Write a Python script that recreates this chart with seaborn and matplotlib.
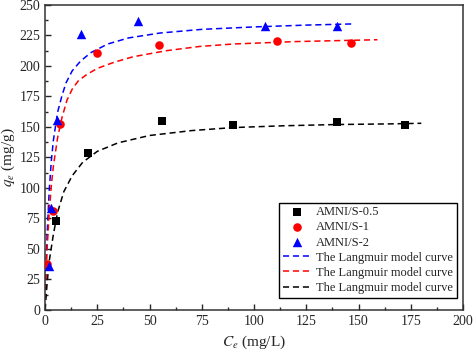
import matplotlib
matplotlib.use("Agg")
import matplotlib.pyplot as plt
import seaborn as sns
import pandas as pd
from matplotlib.ticker import MultipleLocator

# experimental points
ce_05 = [5.3, 20.7, 56, 90, 139.5, 172]
qe_05 = [72.5, 129, 154.5, 152, 153.8, 151.8]
ce_1 = [0.8, 3.7, 7.3, 24.7, 54.5, 111, 146.5]
qe_1 = [38, 81.5, 152.5, 210.5, 216.8, 220.8, 219]
ce_2 = [2.1, 2.7, 5.6, 17.2, 44.6, 105, 139.8]
qe_2 = [36, 83.8, 156, 225.8, 237, 233, 233]

# Langmuir curves
fit_x_2 = [0, 0.5, 1, 2, 3, 4, 6, 8, 10, 13, 17, 22, 30, 40, 55, 75, 100, 125, 148]
fit_y_2 = [0, 36, 62, 98, 122, 139, 162, 175, 186, 196, 204, 211, 218, 223, 227, 230, 232, 233.5, 234.5]
fit_x_1 = [0, 0.5, 1, 2, 3, 4, 6, 8, 10.5, 13, 16, 20, 25, 33, 42, 58, 74, 90, 120, 159]
fit_y_1 = [0, 28, 50, 80, 102, 118, 141, 157, 172, 181, 188, 193, 198, 203, 207.5, 212.5, 216, 218, 220, 221.5]
fit_x_05 = [0, 1, 2, 4, 6, 9, 13, 18, 25, 35, 50, 70, 90, 115, 140, 165, 180]
fit_y_05 = [0, 22, 40, 62, 80, 97, 110, 121, 130, 137, 143, 147, 149.5, 151, 152, 152.5, 153]

sns.set_style("ticks")
plt.rcParams["font.family"] = ["Liberation Serif", "DejaVu Serif"]
plt.rcParams["mathtext.fontset"] = "stix"
plt.rcParams["xtick.direction"] = "in"
plt.rcParams["ytick.direction"] = "in"

fig = plt.figure(figsize=(4.74, 3.55), dpi=100)
ax = fig.add_axes([0.095, 0.127, 0.882, 0.859])

pts05 = pd.DataFrame({"Ce": ce_05, "qe": qe_05})
pts1 = pd.DataFrame({"Ce": ce_1, "qe": qe_1})
pts2 = pd.DataFrame({"Ce": ce_2, "qe": qe_2})

sns.scatterplot(data=pts05, x="Ce", y="qe", marker="s", color="black", s=28,
                edgecolor="black", linewidth=0, label="AMNI/S-0.5", ax=ax, zorder=3)
sns.scatterplot(data=pts1, x="Ce", y="qe", marker="o", color="red", s=38,
                edgecolor="red", linewidth=0, label="AMNI/S-1", ax=ax, zorder=3)
sns.scatterplot(data=pts2, x="Ce", y="qe", marker="^", color="blue", s=46,
                edgecolor="blue", linewidth=0, label="AMNI/S-2", ax=ax, zorder=3)

fit2 = pd.DataFrame({"Ce": fit_x_2, "qe": fit_y_2})
fit1 = pd.DataFrame({"Ce": fit_x_1, "qe": fit_y_1})
fit05 = pd.DataFrame({"Ce": fit_x_05, "qe": fit_y_05})
for df, col in [(fit2, "blue"), (fit1, "red"), (fit05, "black")]:
    sns.lineplot(data=df, x="Ce", y="qe", color=col, linestyle=(0, (4, 2.5)),
                 linewidth=1.1, sort=False, label="The Langmuir model curve", ax=ax, zorder=2)

ax.set_xlim(0, 200)
ax.set_ylim(0, 250)
ax.xaxis.set_major_locator(MultipleLocator(25))
ax.xaxis.set_minor_locator(MultipleLocator(12.5))
ax.yaxis.set_major_locator(MultipleLocator(25))
ax.yaxis.set_minor_locator(MultipleLocator(12.5))
ax.tick_params(which="major", length=4, width=1, labelsize=10, top=False, right=False)
ax.tick_params(which="minor", length=2, width=1, top=False, right=False)
for sp in ax.spines.values():
    sp.set_linewidth(1.1)
    sp.set_color("#333333")

ax.set_xlabel(r"$C_e$ (mg/L)", fontsize=11)
ax.set_ylabel(r"$q_e$ (mg/g)", fontsize=11, labelpad=2)

leg = ax.legend(loc="lower right", bbox_to_anchor=(0.985, 0.04), fontsize=9,
                frameon=True, fancybox=False, edgecolor="black", framealpha=1,
                labelspacing=0.25, handlelength=2.3, handletextpad=0.35,
                borderpad=0.3, borderaxespad=0)
leg.get_frame().set_linewidth(1.0)

plt.savefig("out.png", dpi=100)
